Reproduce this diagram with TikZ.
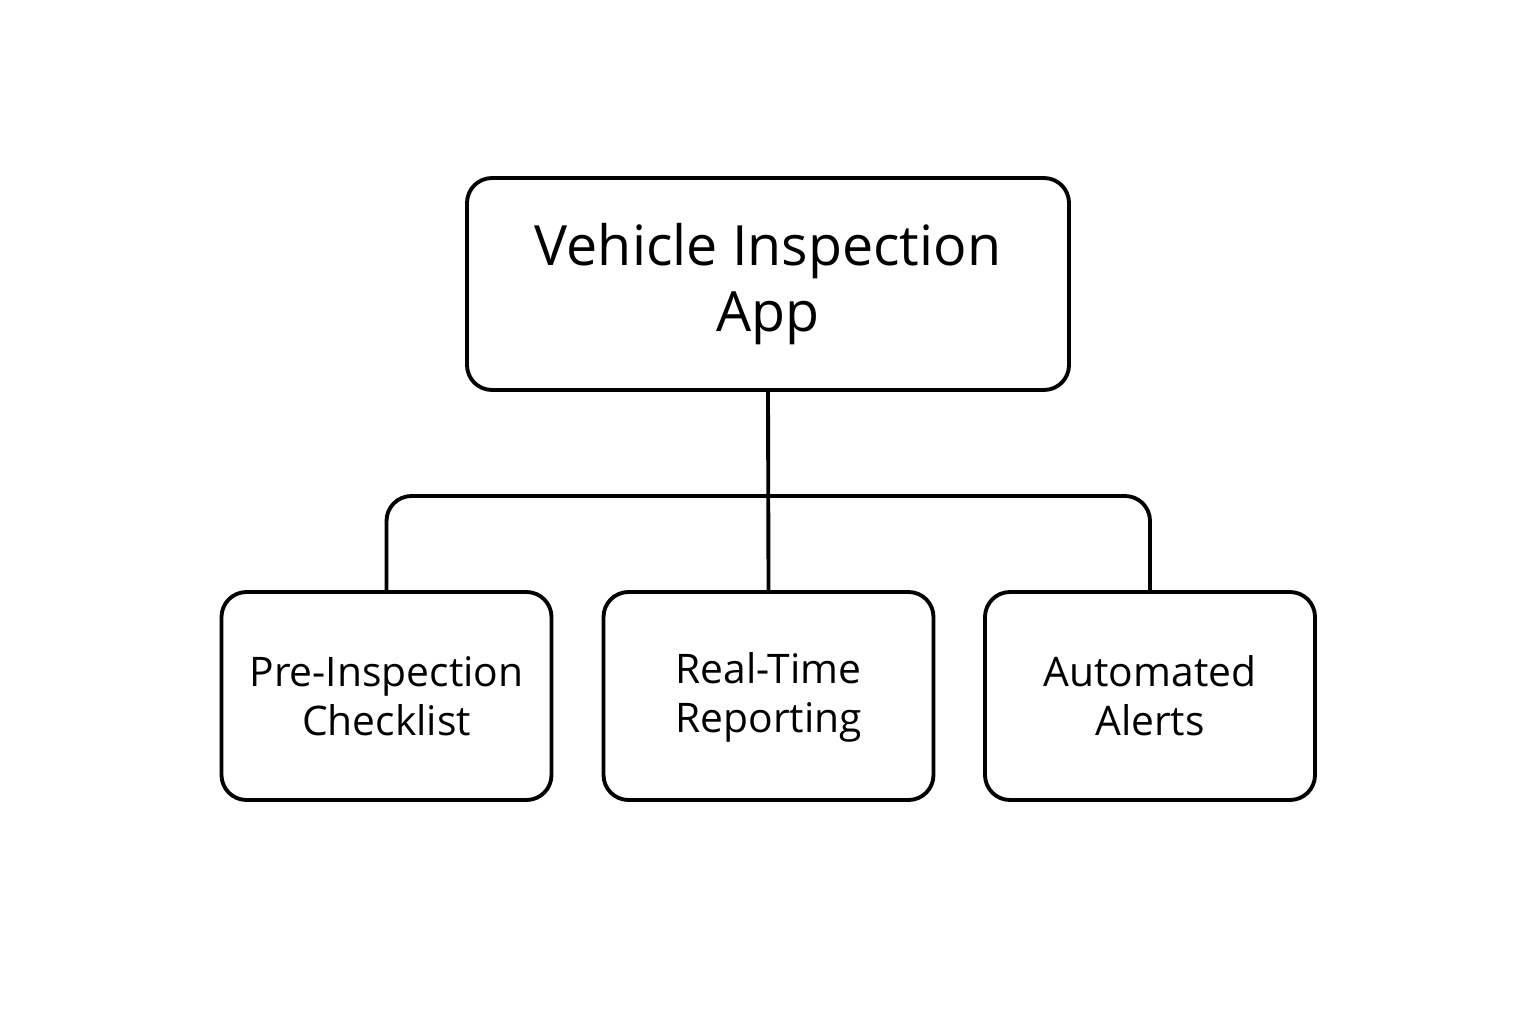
\documentclass[tikz,border=0pt]{standalone}
\usepackage{fontspec}
\setmainfont{Open Sans}
\usetikzlibrary{positioning}
\begin{document}
\begin{tikzpicture}[
    box/.style={draw=black, line width=1.1pt, rounded corners=0.25cm, align=center},
    small/.style={box, minimum width=3.30cm, minimum height=2.08cm,
        font=\fontsize{11.6}{14}\selectfont},
    link/.style={line width=1.1pt, rounded corners=0.25cm}]
  \useasboundingbox (0,0) rectangle (15.36,10.24);
  \node[box, minimum width=6.02cm, minimum height=2.12cm,
        font=\fontsize{15.8}{18.8}\selectfont] (app) at (7.68,7.40) {Vehicle Inspection\\App};
  \node[small] (pre) at (3.865,3.28) {Pre-Inspection\\Checklist};
  \node[small] (rt) at (7.685,3.28) {Real-Time\strut\\Reporting};
  \node[small] (alert) at (11.50,3.28) {Automated\\Alerts};
  \coordinate (bus) at (7.68,5.28);
  % connectors
  \draw[link] (app.south) -- (rt.north);
  \draw[link] (pre.north) |- (bus) -| (alert.north);
\end{tikzpicture}
\end{document}
